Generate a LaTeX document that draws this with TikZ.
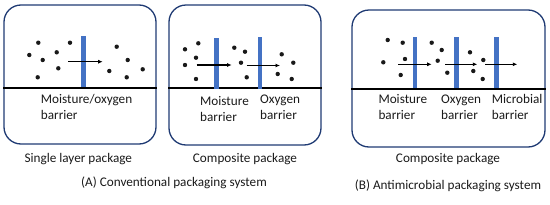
\documentclass[tikz,border=0pt]{standalone}
\usepackage{fontspec}
\setmainfont{Carlito}
\usetikzlibrary{positioning, arrows.meta}
\definecolor{frame}{HTML}{1F3A73}
\definecolor{film}{HTML}{4472C4}
\definecolor{txt}{HTML}{1A1A1A}

\begin{document}
\begin{tikzpicture}[x=1pt, y=-1pt, font=\fontsize{13.2}{15}\selectfont, text=txt,
  pkg/.style={draw=frame, line width=1.3pt, rounded corners=17pt, inner sep=0pt},
  bar/.style={fill=film, draw=none, minimum width=4.8pt, inner sep=0pt},
  lbl/.style={anchor=west, align=left, inner sep=0pt, font=\fontsize{13.2}{16}\selectfont},
  title/.style={inner sep=0pt},
  floor/.style={line width=1.6pt, black},
  arr/.style={-{Latex[length=4.5pt, width=4pt]}, line width=1.2pt, black}
]
  \useasboundingbox (0,0) rectangle (550,204);

  % packages
  \node[pkg, minimum width=152pt, minimum height=139pt] (p1) at (80,74.5) {};
  \node[pkg, minimum width=152pt, minimum height=140pt] (p2) at (245,75) {};
  \node[pkg, minimum width=193pt, minimum height=137pt] (p3) at (448.5,78.5) {};

  \draw[floor] (p1.west |- 0,88) -- (p1.east |- 0,88);
  \draw[floor] (p2.west |- 0,88) -- (p2.east |- 0,88);
  \draw[floor] (p3.west |- 0,89) -- (p3.east |- 0,89);

  % barrier films
  \node[bar, minimum height=51pt] (b1) at (83.3,61.5) {};
  \node[bar, minimum height=51pt] (b2) at (216.7,63.5) {};
  \node[bar, minimum height=52pt] (b3) at (260,62.8) {};
  \node[bar, minimum height=51pt] (b4) at (415,62.5) {};
  \node[bar, minimum height=51pt] (b5) at (456.7,62.5) {};
  \node[bar, minimum height=51pt] (b6) at (496.7,62.5) {};

  % molecules
  \foreach \x/\y in {38.3/42.7, 70/42.7, 29.3/55, 56.7/52.3, 42.7/60, 58.3/68.3,
                     37.7/77.3, 116.7/46.7, 127.7/60, 109.3/71, 142.7/69.3, 126.7/77.3,
                     185/49.3, 198.3/43.3, 196/57.7, 185/65, 196/79, 234.3/47.7,
                     245/51.7, 241/62.7, 246.7/77.3, 281.7/54.3, 293.3/62.7,
                     277.7/74, 291.7/79,
                     387.7/40, 402.7/42.7, 383.3/62.3, 405/59, 400.7/75, 431.7/42.7,
                     441.7/50, 437.7/60.7, 447.3/72.7, 470/52.3, 473.3/71,
                     482.7/79, 483.3/60}
    \fill[black!90] (\x,\y) circle (2.2pt);

  % permeation arrows
  \coordinate (s1) at (68.3,61.7);  \coordinate (e1) at (102.7,61.7);
  \coordinate (s2) at (196.7,65);   \coordinate (e2) at (231.7,65);
  \coordinate (s3) at (246.7,65.5); \coordinate (e3) at (280,65.5);
  \coordinate (s4) at (398.3,64.3); \coordinate (e4) at (431.7,64.3);
  \coordinate (s5) at (445,64.3);   \coordinate (e5) at (477.3,64.3);
  \coordinate (s6) at (485,64.3);   \coordinate (e6) at (517.3,64.3);
  \draw[arr] (s1) -- (e1);
  \draw[arr] (s2) -- (e2); \draw[arr] (s3) -- (e3);
  \draw[arr] (s4) -- (e4); \draw[arr] (s5) -- (e5); \draw[arr] (s6) -- (e6);

  % labels
  \node[lbl] (l1) at (40.7,107) {Moisture/oxygen\\barrier};
  \node[lbl] (l2) at (200,109) {Moisture\\barrier};
  \node[lbl] (l3) at (260,107) {Oxygen\\barrier};
  \node[lbl] (l4) at (378.3,107.5) {Moisture\\barrier};
  \node[lbl] (l5) at (441,107) {Oxygen\\barrier};
  \node[lbl] (l6) at (491.7,107) {Microbial\\barrier};

  \node[title] (c1) at (78.3,159) {Single layer package};
  \node[title] (c2) at (245,159.5) {Composite package};
  \node[title] (c3) at (448,159.5) {Composite package};
  \node[title] (c4) at (174,183) {(A) Conventional packaging system};
  \node[title] (c5) at (448,186) {(B) Antimicrobial packaging system};
\end{tikzpicture}
\end{document}
